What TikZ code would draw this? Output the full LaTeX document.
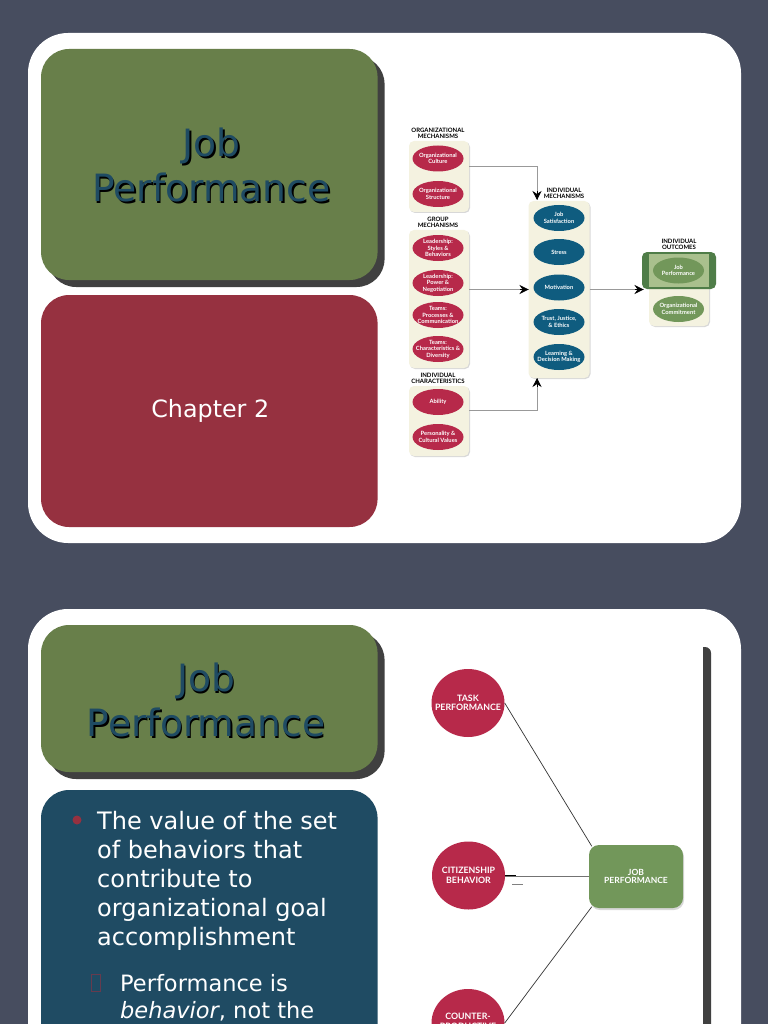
\documentclass[tikz,border=0pt]{standalone}
\usepackage{fontspec}
\setmainfont{DejaVu Sans}
\newfontfamily\chartfont{Lato}
\usetikzlibrary{arrows.meta,shadows,shapes.geometric}
\definecolor{slidebg}{HTML}{474D5F}
\definecolor{titlegreen}{HTML}{687F4A}
\definecolor{chapterred}{HTML}{963140}
\definecolor{bodyblue}{HTML}{1F4B63}
\definecolor{darkshadow}{HTML}{404040}
\definecolor{cream}{HTML}{F4F2E0}
\definecolor{chartred}{HTML}{B7294A}
\definecolor{chartblue}{HTML}{0F5C7F}
\definecolor{chartgreen}{HTML}{72975A}
\definecolor{bandgreen}{HTML}{4F7D48}
\definecolor{bandlight}{HTML}{A9C08D}
\tikzset{>={Stealth[length=9pt,width=9pt,inset=3pt]}}
\tikzset{
  panel/.style={fill=white,rounded corners=40pt,minimum width=713pt,inner sep=0pt,outer sep=0pt},
  card/.style={rounded corners=28pt,minimum width=336.5pt,inner sep=0pt,outer sep=0pt},
  titlecard/.style={card,fill=titlegreen,drop shadow={shadow xshift=7pt,shadow yshift=-7pt,opacity=1,fill=darkshadow}},
  titletext/.style={font=\fontsize{37.6}{45}\selectfont,align=center,inner sep=0pt},
  cream box/.style={fill=cream,rounded corners=5pt,minimum width=60pt,inner sep=0pt,outer sep=0pt,
    drop shadow={shadow xshift=1pt,shadow yshift=-1pt,opacity=.3,fill=gray}},
  oval/.style={ellipse,minimum width=51pt,minimum height=26pt,inner xsep=-15pt,inner ysep=-8pt,text=white,align=center,
    font=\chartfont\bfseries\fontsize{5.8}{6.6}\selectfont},
  redoval/.style={oval,fill=chartred},
  blueoval/.style={oval,fill=chartblue},
  greenoval/.style={oval,fill=chartgreen},
  heading/.style={align=center,inner sep=0pt,font=\chartfont\bfseries\fontsize{6}{6}\selectfont},
  link/.style={draw=black!40,line width=.7pt},
  linktip/.style={draw=black,line width=.7pt,->},
  bigcircle/.style={ellipse,fill=chartred,minimum width=73pt,minimum height=68pt,inner xsep=-25pt,inner ysep=-10pt,text=white,align=center,
    font=\chartfont\bfseries\fontsize{8.8}{9.5}\selectfont},
  bodytext/.style={anchor=north west,align=left,inner sep=0pt,text=white},
  slope/.style={draw=black!80,line width=.7pt},
}

\begin{document}
\begin{tikzpicture}[x=1pt,y=-1pt]
  \useasboundingbox (0,0) rectangle (768,1024);
  \clip (0,0) rectangle (768,1024);
  \fill[slidebg] (0,0) rectangle (768,1024);
  % first slide
  \node[panel,minimum height=510pt] (top) at (384.5,288) {};
  \node[titlecard,minimum height=231pt] (titleA) at (209.3,164.5) {};
  \node[titletext,text=black] (jobshadowA) at (213,166.5) {Job\\Performance};
  \node[titletext,text=bodyblue] (jobA) at (211.5,165) {Job\\Performance};
  \node[card,fill=chapterred,minimum height=232pt,text=white,font=\fontsize{23.8}{28}\selectfont] (chapter) at (209.3,411) {\hspace{2pt}Chapter 2};
  % framework chart
  \node[cream box,minimum height=71pt] (orgbox) at (439,176.5) {};
  \node[cream box,minimum height=138pt] (groupbox) at (439,299) {};
  \node[cream box,minimum height=70pt] (indbox) at (439,421) {};
  \node[cream box,minimum height=177pt,minimum width=61pt] (midbox) at (559,289.5) {};
  \node[cream box,minimum height=74pt] (outbox) at (679,289) {};
  \node[fill=bandgreen,rounded corners=5pt,minimum width=74pt,minimum height=37pt,inner sep=0pt,outer sep=0pt] (band) at (679,270.5) {};
  \node[fill=bandlight,minimum width=60pt,minimum height=33pt,inner sep=0pt] (bandinner) at (679,270.5) {};
  \node[heading] (orghead) at (438,133) {ORGANIZATIONAL\\MECHANISMS};
  \node[heading] (grouphead) at (438,222.5) {GROUP\\MECHANISMS};
  \node[heading] (indhead) at (438,378.5) {INDIVIDUAL\\CHARACTERISTICS};
  \node[heading] (midhead) at (564,193) {INDIVIDUAL\\MECHANISMS};
  \node[heading] (outhead) at (679,244) {INDIVIDUAL\\OUTCOMES};
  \node[redoval] (culture) at (438,158.5) {Organizational\\Culture};
  \node[redoval] (structure) at (438,194) {Organizational\\Structure};
  \node[redoval] (styles) at (438,248) {Leadership:\\Styles \&\\Behaviors};
  \node[redoval] (power) at (438,283) {Leadership:\\Power \&\\Negotiation};
  \node[redoval] (processes) at (438,315) {Teams:\\Processes \&\\Communication};
  \node[redoval] (diversity) at (438,349) {Teams:\\Characteristics \&\\Diversity};
  \node[redoval] (ability) at (438,402) {Ability};
  \node[redoval] (personality) at (438,437) {Personality \&\\Cultural Values};
  \node[blueoval] (satisfaction) at (559,218) {Job\\Satisfaction};
  \node[blueoval] (stress) at (559,252) {Stress};
  \node[blueoval] (motivation) at (559,287.5) {Motivation};
  \node[blueoval] (trust) at (559,322) {Trust, Justice,\\\& Ethics};
  \node[blueoval] (learning) at (559,357) {Learning \&\\Decision Making};
  \node[greenoval] (jobperf) at (678.5,270.5) {Job\\Performance};
  \node[greenoval] (commitment) at (678.5,309) {Organizational\\Commitment};
  % grey lines, black tips on top
  \coordinate (orgtip) at ([xshift=-22pt,yshift=1pt]midbox.north);
  \coordinate (indtip) at ([xshift=-22pt]midbox.south);
  \coordinate (outtip) at ([xshift=1.5pt]band.south west |- midbox.east);
  \draw[link] ([yshift=10.5pt]orgbox.east) -| (orgtip);
  \draw[linktip] ([yshift=9pt]orgtip) -- (orgtip);
  \draw[link] (groupbox.east |- midbox.center) -- (midbox.west);
  \draw[linktip] ([xshift=-9pt]midbox.west) -- (midbox.west);
  \draw[link] ([yshift=11pt]indbox.east) -| (indtip);
  \draw[linktip] ([yshift=-9pt]indtip) -- (indtip);
  \draw[link] (midbox.east) -- (outtip);
  \draw[linktip] ([xshift=-9pt]outtip) -- (outtip);
  % second slide
  \node[panel,minimum height=491pt] (bottom) at (384.5,854.5) {};
  \node[fill=darkshadow,rounded corners=6pt,minimum width=111pt,minimum height=460pt,inner sep=0pt] (picshadow) at (655.5,877) {};
  \node[fill=white,minimum width=303pt,minimum height=460pt,inner sep=0pt] (pic) at (551.5,870) {};
  \node[titlecard,minimum height=147pt] (titleB) at (209.3,698.5) {};
  \node[titletext,text=black] (jobshadowB) at (207.5,701.5) {Job\\Performance};
  \node[titletext,text=bodyblue] (jobB) at (206,700) {Job\\Performance};
  \node[card,fill=bodyblue,minimum height=300pt] (body) at (209.3,940) {};
  \fill[chapterred] (77,820) circle (4.5pt);
  \node[bodytext,font=\fontsize{24}{29}\selectfont] (bullet) at (97,811.5) {The value of the set\\of behaviors that\\contribute to\\organizational goal\\accomplishment};
  \node[draw=chapterred!60!bodyblue,minimum width=9pt,minimum height=17pt,inner sep=0pt,line width=.5pt] (tofu) at (95.5,983) {};
  \node[bodytext,font=\fontsize{22.5}{27}\selectfont] (subbullet) at (120,974) {Performance is\\\textit{behavior}, not the};
  % performance chart
  \node[bigcircle] (task) at (468,703) {TASK\\PERFORMANCE};
  \node[bigcircle] (citizen) at (468.5,875.5) {CITIZENSHIP\\BEHAVIOR};
  \node[bigcircle,text height=32pt] (counter) at (468,1023) {COUNTER-\\PRODUCTIVE\\BEHAVIOR};
  \node[fill=chartgreen,rounded corners=10pt,minimum width=94pt,minimum height=63pt,inner sep=0pt,text=white,align=center,
    font=\chartfont\bfseries\fontsize{8.5}{8.5}\selectfont,
    drop shadow={shadow xshift=1pt,shadow yshift=-2pt,opacity=.3,fill=gray}] (perf) at (636,876.5) {JOB\\PERFORMANCE};
  \draw[slope] (task.east) -- ([xshift=3pt,yshift=-1.5pt]perf.north west);
  \draw[draw=black!55,line width=.7pt] (citizen.east |- perf.west) -- (perf.west);
  \draw[black,line width=.7pt] (citizen.east) -- ++(11,0);
  \draw[slope] (counter.east) -- ([xshift=3pt,yshift=1.5pt]perf.south west);
  \draw[gray,line width=.6pt] (512,884) -- (523,884);
\end{tikzpicture}
\end{document}
